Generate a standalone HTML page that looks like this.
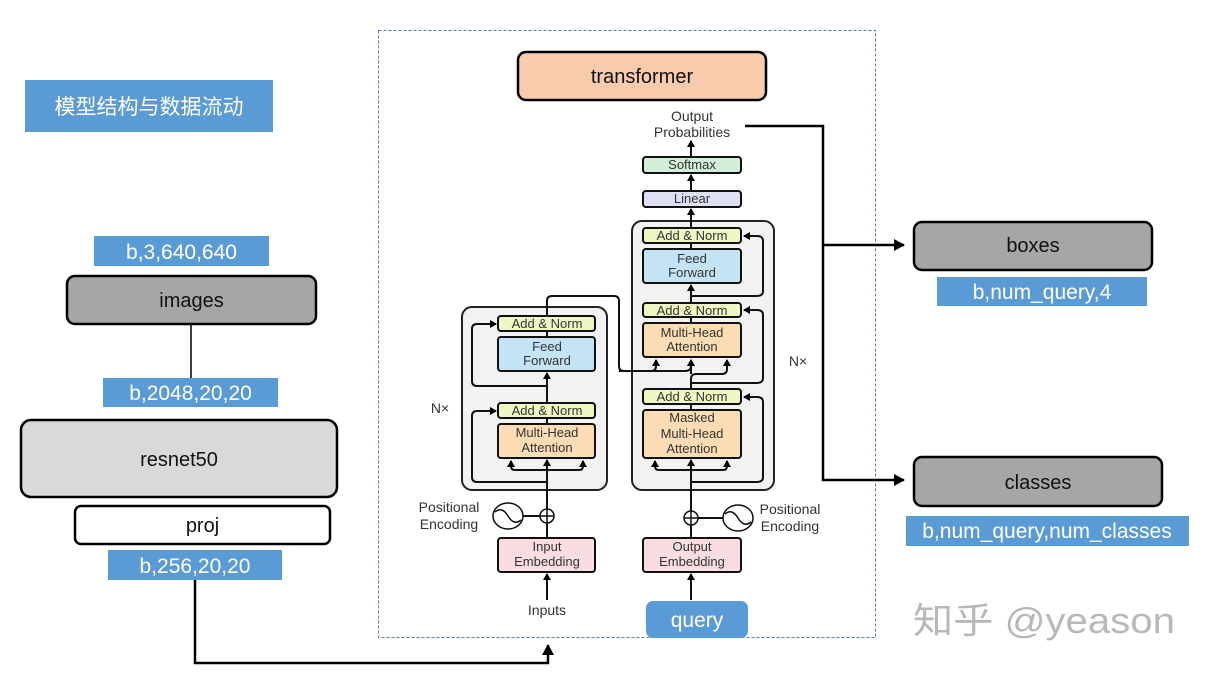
<!DOCTYPE html>
<html><head><meta charset="utf-8"><style>
body{margin:0;background:#fff}
svg{display:block}
.t{font-family:"Liberation Sans","Noto Sans CJK SC",sans-serif}
.s{font-family:"Liberation Sans",sans-serif;font-size:13px;fill:#333;text-anchor:middle}
.w{font-family:"Liberation Sans","Noto Sans CJK SC",sans-serif;fill:#fff;font-size:21px;text-anchor:middle}
.k{font-family:"Liberation Sans",sans-serif;fill:#111;font-size:20px;text-anchor:middle}
</style></head><body>
<svg width="1206" height="673" viewBox="0 0 1206 673" xmlns="http://www.w3.org/2000/svg">
<defs>
<marker id="a" markerWidth="8" markerHeight="8" refX="6" refY="4" orient="auto" markerUnits="userSpaceOnUse"><path d="M0,0 L7,4 L0,8 z" fill="#000"/></marker>
<marker id="b" markerWidth="12" markerHeight="12" refX="10" refY="6" orient="auto" markerUnits="userSpaceOnUse"><path d="M0,0 L11,6 L0,12 z" fill="#000"/></marker>
</defs>
<rect x="378.5" y="30.5" width="497" height="607" fill="none" stroke="#5b7fa8" stroke-dasharray="3,2"/>
<rect x="25" y="80" width="248" height="52" fill="#5b9bd5"/>
<text x="149" y="114" class="w" font-size="23">模型结构与数据流动</text>
<rect x="94" y="236" width="175" height="30" fill="#5b9bd5"/>
<text x="181.5" y="259" class="w">b,3,640,640</text>
<rect x="67" y="276" width="249" height="48" rx="8" fill="#a6a6a6" stroke="#000" stroke-width="2.5"/>
<text x="191.5" y="307" class="k">images</text>
<line x1="191" y1="324" x2="191" y2="380" stroke="#000" stroke-width="1.5"/>
<rect x="103" y="378" width="175" height="29" fill="#5b9bd5"/>
<text x="190.5" y="400" class="w">b,2048,20,20</text>
<rect x="21" y="420" width="316" height="77" rx="10" fill="#d9d9d9" stroke="#000" stroke-width="2.5"/>
<text x="179" y="466" class="k">resnet50</text>
<rect x="75" y="506" width="255" height="38" rx="6" fill="#fff" stroke="#000" stroke-width="2.5"/>
<text x="202.5" y="532" class="k">proj</text>
<rect x="108" y="550" width="174" height="30" fill="#5b9bd5"/>
<text x="195" y="573" class="w">b,256,20,20</text>
<polyline points="195,580 195,663 548,663 548,645" fill="none" stroke="#000" stroke-width="2.5" marker-end="url(#b)"/>
<rect x="518" y="52" width="248" height="48" rx="8" fill="#f8cbad" stroke="#000" stroke-width="2.5"/>
<text x="642" y="83" class="k">transformer</text>
<rect x="462" y="307" width="145" height="183" rx="10" fill="#f2f2f2" stroke="#222" stroke-width="2"/>
<rect x="632" y="221" width="142" height="269" rx="10" fill="#f2f2f2" stroke="#222" stroke-width="2"/>
<g stroke="#111" stroke-width="2" fill="none">
<line x1="547" y1="538" x2="547" y2="460" marker-end="url(#a)"/>
<line x1="547" y1="424" x2="547" y2="418"/>
<line x1="547" y1="403" x2="547" y2="373" marker-end="url(#a)"/>
<line x1="547" y1="337" x2="547" y2="331"/>
<path d="M547,470 L515,470 Q511,470 511,466 L511,461" marker-end="url(#a)"/>
<path d="M547,470 L579,470 Q583,470 583,466 L583,461" marker-end="url(#a)"/>
<path d="M547,482 L477,482 Q472,482 472,477 L472,416 Q472,411 477,411 L496,411" marker-end="url(#a)"/>
<path d="M547,386 L477,386 Q472,386 472,381 L472,329 Q472,324 477,324 L496,324" marker-end="url(#a)"/>
<path d="M547,316 L547,301 Q547,296 552,296 L614,296 Q619,296 619,301 L619,366 Q619,371 624,371 L651,371 Q656,371 656,366 L656,360" marker-end="url(#a)"/>
<path d="M619,371 L685,371 Q691,371 691,366 L691,360" marker-end="url(#a)"/>
<line x1="691" y1="538" x2="691" y2="460" marker-end="url(#a)"/>
<path d="M691,470 L659,470 Q655,470 655,466 L655,461" marker-end="url(#a)"/>
<path d="M691,470 L723,470 Q727,470 727,466 L727,461" marker-end="url(#a)"/>
<path d="M691,482 L757,482 Q763,482 763,477 L763,402 Q763,397 757,397 L744,397" marker-end="url(#a)"/>
<line x1="691" y1="410" x2="691" y2="404"/>
<path d="M691,389 L691,379 Q691,374 696,374 L722,374 Q727,374 727,369 L727,360" marker-end="url(#a)"/>
<path d="M691,374 L691,360" marker-end="url(#a)"/>
<path d="M691,383 L757,383 Q763,383 763,378 L763,315 Q763,310 757,310 L744,310"/>
<path d="M748,310 L744,310" marker-end="url(#a)"/>
<line x1="691" y1="323" x2="691" y2="317"/>
<line x1="691" y1="303" x2="691" y2="285" marker-end="url(#a)"/>
<path d="M691,296 L757,296 Q763,296 763,291 L763,241 Q763,236 757,236 L744,236" marker-end="url(#a)"/>
<line x1="691" y1="249" x2="691" y2="243"/>
<line x1="691" y1="228" x2="691" y2="209" marker-end="url(#a)"/>
<line x1="691" y1="191" x2="691" y2="175" marker-end="url(#a)"/>
<line x1="691" y1="157" x2="691" y2="141" marker-end="url(#a)"/>
<line x1="547" y1="600" x2="547" y2="574" marker-end="url(#a)"/>
<line x1="691" y1="600" x2="691" y2="574" marker-end="url(#a)"/>
<line x1="547" y1="538" x2="547" y2="525"/>
<line x1="522" y1="516" x2="540" y2="516"/>
<line x1="698" y1="518" x2="724" y2="518"/>
</g>
<g stroke="#111" stroke-width="2">
<rect x="498" y="316" width="97" height="15" rx="3" fill="#f1f6c5"/>
<rect x="498" y="337" width="97" height="34" rx="3" fill="#c4e4f6"/>
<rect x="498" y="403" width="97" height="15" rx="3" fill="#f1f6c5"/>
<rect x="498" y="424" width="97" height="34" rx="3" fill="#fcdcb4"/>
<rect x="498" y="538" width="97" height="34" rx="3" fill="#f9dde0"/>
<rect x="643" y="228" width="98" height="15" rx="3" fill="#f1f6c5"/>
<rect x="643" y="249" width="98" height="34" rx="3" fill="#c4e4f6"/>
<rect x="643" y="303" width="98" height="14" rx="3" fill="#f1f6c5"/>
<rect x="643" y="323" width="98" height="34" rx="3" fill="#fcdcb4"/>
<rect x="643" y="389" width="98" height="15" rx="3" fill="#f1f6c5"/>
<rect x="643" y="410" width="98" height="48" rx="3" fill="#fcdcb4"/>
<rect x="643" y="538" width="98" height="34" rx="3" fill="#f9dde0"/>
<rect x="643" y="191" width="98" height="16" rx="3" fill="#dfe0f3"/>
<rect x="643" y="157" width="98" height="16" rx="3" fill="#d3eed8"/>
</g>
<g stroke="#111" stroke-width="1.5" fill="#fff">
<circle cx="547" cy="516" r="7"/><path d="M540,516 H554 M547,509 V523"/>
<circle cx="691" cy="518" r="7"/><path d="M684,518 H698 M691,511 V525"/>
<ellipse cx="508" cy="516" rx="15" ry="13"/><path d="M495,512 Q502,506 508,516 Q514,526 521,520" fill="none"/>
<ellipse cx="738" cy="518" rx="15" ry="13"/><path d="M725,514 Q732,508 738,518 Q744,528 751,522" fill="none"/>
</g>
<g class="s">
<text x="547" y="328">Add &amp; Norm</text>
<text x="547" y="351">Feed</text><text x="547" y="365">Forward</text>
<text x="547" y="415">Add &amp; Norm</text>
<text x="547" y="437">Multi-Head</text><text x="547" y="452">Attention</text>
<text x="547" y="551">Input</text><text x="547" y="566">Embedding</text>
<text x="692" y="240">Add &amp; Norm</text>
<text x="692" y="263">Feed</text><text x="692" y="277">Forward</text>
<text x="692" y="315">Add &amp; Norm</text>
<text x="692" y="337">Multi-Head</text><text x="692" y="351">Attention</text>
<text x="692" y="401">Add &amp; Norm</text>
<text x="692" y="422">Masked</text><text x="692" y="438">Multi-Head</text><text x="692" y="453">Attention</text>
<text x="692" y="551">Output</text><text x="692" y="566">Embedding</text>
<text x="692" y="203">Linear</text>
<text x="692" y="169">Softmax</text>
<text x="692" y="121" font-size="14">Output</text>
<text x="692" y="137" font-size="14">Probabilities</text>
<text x="547" y="615" font-size="14">Inputs</text>
<text x="449" y="512" font-size="14">Positional</text>
<text x="449" y="529" font-size="14">Encoding</text>
<text x="790" y="514" font-size="14">Positional</text>
<text x="790" y="531" font-size="14">Encoding</text>
<text x="440" y="413" font-size="14">N×</text>
<text x="798" y="366" font-size="14">N×</text>
</g>
<rect x="646" y="601" width="102" height="37" rx="7" fill="#5b9bd5"/>
<text x="697" y="627" class="w">query</text>
<polyline points="745,126 823,126 823,480 904,480" fill="none" stroke="#000" stroke-width="2.5" marker-end="url(#b)"/>
<polyline points="823,245 904,245" fill="none" stroke="#000" stroke-width="2.5" marker-end="url(#b)"/>
<rect x="914" y="222" width="238" height="48" rx="8" fill="#a6a6a6" stroke="#000" stroke-width="2.5"/>
<text x="1033" y="252" class="k">boxes</text>
<rect x="937" y="277" width="210" height="29" fill="#5b9bd5"/>
<text x="1042" y="299" class="w">b,num_query,4</text>
<rect x="914" y="457" width="248" height="49" rx="8" fill="#a6a6a6" stroke="#000" stroke-width="2.5"/>
<text x="1038" y="489" class="k">classes</text>
<rect x="906" y="516" width="283" height="30" fill="#5b9bd5"/>
<text x="1047" y="538" class="w">b,num_query,num_classes</text>
<text x="1044" y="633" class="t" font-size="36" fill="#b8b8b8" text-anchor="middle" textLength="262" lengthAdjust="spacingAndGlyphs">知乎 @yeason</text>
</svg>
</body></html>
